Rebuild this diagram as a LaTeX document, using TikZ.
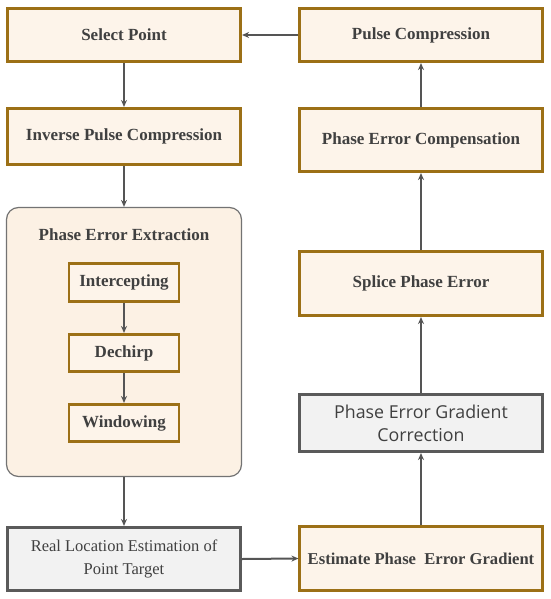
\documentclass[tikz,border=0pt]{standalone}
\usepackage{fontspec}
\setmainfont{Liberation Serif}
\newfontfamily\guisans{Open Sans}
\usepackage{tikz}
\usetikzlibrary{arrows.meta,calc}

\definecolor{boxfill}{RGB}{253,244,234}
\definecolor{boxline}{RGB}{156,112,22}
\definecolor{grpfill}{RGB}{252,241,228}
\definecolor{grpline}{RGB}{115,115,115}
\definecolor{grayfill}{RGB}{242,242,242}
\definecolor{grayline}{RGB}{90,90,90}
\definecolor{ink}{RGB}{64,64,64}
\definecolor{flow}{RGB}{85,85,85}

\begin{document}
\begin{tikzpicture}[x=1pt,y=-1pt]
\tikzset{
	step box/.style = {draw=boxline, fill=boxfill, line width=2.6pt, text=ink,
		font=\fontsize{17}{20}\selectfont\bfseries, inner sep=0pt},
	sub box/.style = {step box, minimum width=110pt, minimum height=37.5pt},
	gray box/.style = {draw=grayline, fill=grayfill, line width=2.6pt, text=ink,
		align=center, inner sep=0pt},
	group box/.style = {draw=grpline, fill=grpfill, line width=1.2pt, rounded corners=12pt},
	flow arrow/.style = {draw=flow, line width=2pt, -{Stealth[length=7pt,width=6pt]}}
}
\useasboundingbox (0,0) rectangle (550,599);
% left column
\node(select)[step box, minimum width=233.5pt, minimum height=53.5pt] at (124,35) {Select Point};
\node(ipc)[step box, minimum width=233.5pt, minimum height=56.5pt] at (124,136.5) {Inverse Pulse Compression};
\node(group)[group box, minimum width=235pt, minimum height=269pt] at (124,342) {};
\node(grouptitle)[text=ink, font=\fontsize{17}{20}\selectfont\bfseries] at (124,235) {Phase Error Extraction};
\node(intercept)[sub box] at (124,282.5) {Intercepting};
\node(dechirp)[sub box] at (124,353) {Dechirp};
\node(window)[sub box] at (124,423) {Windowing};
\node(realloc)[gray box, minimum width=233.5pt, minimum height=63.5pt,
	font=\fontsize{16.5}{22.5}\selectfont] at (124,559) {Real Location Estimation of\\Point Target};
% right column
\node(pc)[step box, minimum width=242.5pt, minimum height=53.5pt] at (421,35) {Pulse Compression};
\node(comp)[step box, minimum width=242.5pt, minimum height=63.5pt] at (421,140) {Phase Error Compensation};
\node(splice)[step box, minimum width=242.5pt, minimum height=64.5pt] at (421,283.5) {Splice Phase Error};
\node(gradcorr)[gray box, minimum width=242.5pt, minimum height=57.5pt,
	font=\guisans\fontsize{17.8}{23}\selectfont] at (421,423) {Phase Error Gradient\\Correction};
\node(estimate)[step box, minimum width=242.5pt, minimum height=64.5pt,
	font=\fontsize{16.6}{20}\selectfont\bfseries] at (421,558.5) {Estimate Phase ~Error Gradient};
% connectors
\draw[flow arrow] (pc.west) -- (select.east);
\draw[flow arrow] (select.south) -- (ipc.north);
\draw[flow arrow] (ipc.south) -- (group.north);
\draw[flow arrow] (intercept.south) -- (dechirp.north);
\draw[flow arrow] (dechirp.south) -- (window.north);
\draw[flow arrow] (group.south) -- (realloc.north);
\draw[flow arrow] (realloc.east) -- (estimate.west);
\draw[flow arrow] (estimate.north) -- (gradcorr.south);
\draw[flow arrow] (gradcorr.north) -- (splice.south);
\draw[flow arrow] (splice.north) -- (comp.south);
\draw[flow arrow] (comp.north) -- (pc.south);
\end{tikzpicture}
\end{document}
